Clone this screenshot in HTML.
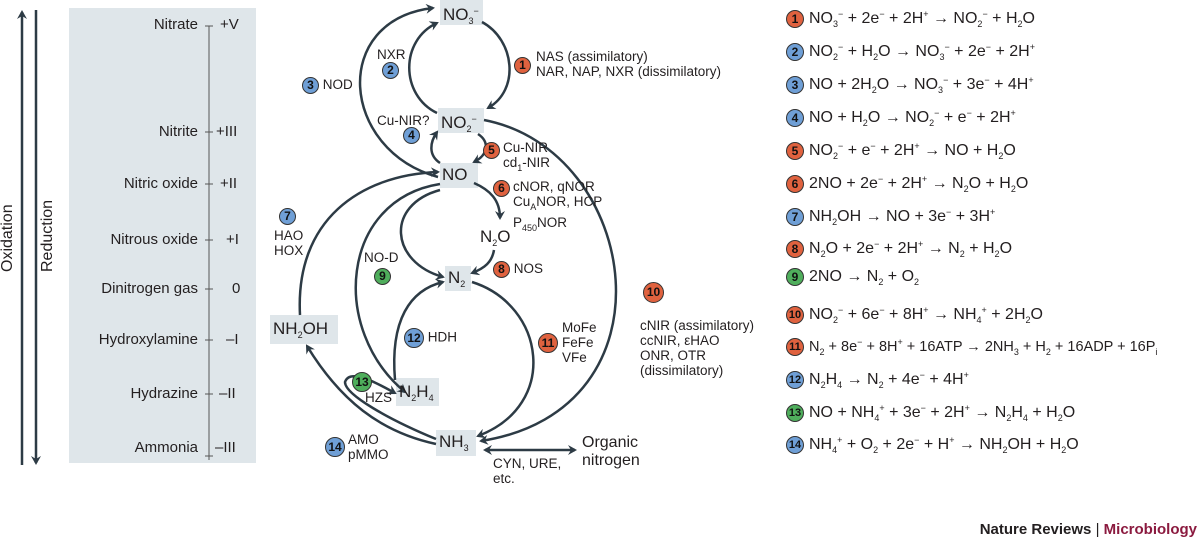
<!DOCTYPE html>
<html><head><meta charset="utf-8"><style>
body{margin:0;width:1200px;height:542px;background:#fff;position:relative;overflow:hidden;font-family:"Liberation Sans",sans-serif;color:#231f20}
.t{position:absolute;white-space:nowrap;font-size:15px;line-height:16px}
.b{position:absolute;background:#dfe6ea}
.s{font-size:9px;vertical-align:-4px}
.p{font-size:9px;vertical-align:6px}
.c{display:inline-block;width:17px;height:17px;border-radius:50%;border:1px solid #333;box-sizing:border-box;font-weight:bold;font-size:12px;line-height:15px;text-align:center;color:#111;vertical-align:middle}
.o{background:#e0623f}.u{background:#6f9fd6}.g{background:#4fae5c}
.r{text-align:right}
.eq{position:absolute;left:786px;font-size:16px;white-space:nowrap;line-height:18px}
.eq .c{margin-right:5px;width:18px;height:18px;line-height:16px}
.sm{font-size:13.5px;line-height:15px}
</style></head><body>
<div class="b" style="left:69px;top:8px;width:187px;height:455px"></div>
<svg width="1200" height="542" style="position:absolute;left:0;top:0">
<defs><marker id="a" markerWidth="10" markerHeight="10" refX="7" refY="5" orient="auto" markerUnits="userSpaceOnUse"><path d="M0,0 L9,5 L0,10 L3,5z" fill="#2d3b45"/></marker>
<marker id="as" markerWidth="10" markerHeight="10" refX="2" refY="5" orient="auto" markerUnits="userSpaceOnUse"><path d="M9,0 L0,5 L9,10 L6,5z" fill="#2d3b45"/></marker></defs>
<g stroke="#2d3b45" stroke-width="2.5" fill="none">
<line x1="22" y1="465" x2="22" y2="12" marker-end="url(#a)"/>
<line x1="36" y1="10" x2="36" y2="463" marker-end="url(#a)"/>
</g>
<g stroke="#555" stroke-width="1" fill="none">
<line x1="209" y1="26" x2="209" y2="460"/>
<path d="M205,26h8M205,132h8M205,184h8M205,240h8M205,289h8M205,340h8M205,394h8M205,456h8"/>
</g>
<rect x="440" y="0" width="43" height="25" fill="#dfe6ea"/>
<rect x="438" y="108" width="46" height="25" fill="#dfe6ea"/>
<rect x="440" y="163" width="38" height="25" fill="#dfe6ea"/>
<rect x="445" y="266" width="26" height="25" fill="#dfe6ea"/>
<rect x="270" y="315" width="68" height="29" fill="#dfe6ea"/>
<rect x="396" y="378" width="43" height="28" fill="#dfe6ea"/>
<rect x="436" y="430" width="40" height="26" fill="#dfe6ea"/>
<g stroke="#2d3b45" stroke-width="2.5" fill="none" marker-end="url(#a)">
<path d="M482,22 C515,40 520,90 488,108"/>
<path d="M437,113 C400,95 400,40 437,23"/>
<path d="M438,177 C340,150 330,20 433,8"/>
<path d="M440,163 C428,155 430,142 437,132"/>
<path d="M478,134 C490,142 488,155 474,162"/>
<path d="M474,183 C490,190 500,200 500,218"/>
<path d="M494,250 C492,262 485,268 472,273"/>
<path d="M440,190 C385,205 390,262 443,277"/>
<path d="M440,184 C340,200 330,330 405,392"/>
<path d="M300,315 C295,220 360,175 438,172"/>
<path d="M436,444 C380,432 340,400 307,346"/>
<path d="M436,439 C390,420 345,395 345,382 C350,367 380,385 395,393"/>
<path d="M395,380 C390,320 410,290 443,282"/>
<path d="M472,282 C545,305 560,405 478,436"/>
<path d="M484,120 C640,150 680,410 481,441"/>
<path d="M485,450 L575,450" marker-start="url(#as)"/>
</g>
</svg>
<div class="t" style="left:0;transform:rotate(-90deg);transform-origin:0 0;top:272px;font-size:16px">Oxidation</div>
<div class="t" style="left:40px;top:272px;transform:rotate(-90deg);transform-origin:0 0;font-size:16px">Reduction</div>
<div class="t r" style="left:60px;width:138px;top:17px">Nitrate</div>
<div class="t r" style="left:60px;width:138px;top:124px">Nitrite</div>
<div class="t r" style="left:60px;width:138px;top:176px">Nitric oxide</div>
<div class="t r" style="left:60px;width:138px;top:232px">Nitrous oxide</div>
<div class="t r" style="left:60px;width:138px;top:281px">Dinitrogen gas</div>
<div class="t r" style="left:60px;width:138px;top:332px">Hydroxylamine</div>
<div class="t r" style="left:60px;width:138px;top:386px">Hydrazine</div>
<div class="t r" style="left:60px;width:138px;top:440px">Ammonia</div>
<div class="t" style="left:220px;top:17px">+V</div>
<div class="t" style="left:216px;top:124px">+III</div>
<div class="t" style="left:220px;top:176px">+II</div>
<div class="t" style="left:226px;top:232px">+I</div>
<div class="t" style="left:232px;top:281px">0</div>
<div class="t" style="left:226px;top:332px">–I</div>
<div class="t" style="left:219px;top:386px">–II</div>
<div class="t" style="left:215px;top:440px">–III</div>

<div class="t" style="left:443px;top:3px;font-size:17px">NO<span class="s">3</span><span class="p">−</span></div>
<div class="t" style="left:441px;top:111px;font-size:17px">NO<span class="s">2</span><span class="p">−</span></div>
<div class="t" style="left:442px;top:167px;font-size:17px">NO</div>
<div class="t" style="left:480px;top:229px;font-size:17px">N<span class="s">2</span>O</div>
<div class="t" style="left:448px;top:270px;font-size:17px">N<span class="s">2</span></div>
<div class="t" style="left:273px;top:321px;font-size:17px">NH<span class="s">2</span>OH</div>
<div class="t" style="left:399px;top:384px;font-size:17px">N<span class="s">2</span>H<span class="s">4</span></div>
<div class="t" style="left:439px;top:434px;font-size:17px">NH<span class="s">3</span></div>
<div class="t" style="left:582px;top:434px;font-size:16px;line-height:18px">Organic<br>nitrogen</div>
<div class="t sm" style="left:493px;top:456px">CYN, URE,<br>etc.</div>

<div class="t sm" style="left:377px;top:47px">NXR</div>
<div class="t" style="left:382px;top:62px"><span class="c u">2</span></div>
<div class="t sm" style="left:302px;top:77px"><span class="c u">3</span> NOD</div>
<div class="t sm" style="left:514px;top:49px"><span class="c o" style="margin-top:8px;vertical-align:top">1</span></div>
<div class="t sm" style="left:536px;top:49px">NAS (assimilatory)<br>NAR, NAP, NXR (dissimilatory)</div>
<div class="t sm" style="left:377px;top:113px">Cu-NIR?</div>
<div class="t" style="left:403px;top:127px"><span class="c u">4</span></div>
<div class="t" style="left:483px;top:142px"><span class="c o">5</span></div>
<div class="t sm" style="left:503px;top:140px">Cu-NIR<br>cd<span class="s">1</span>-NIR</div>
<div class="t" style="left:493px;top:180px"><span class="c o">6</span></div>
<div class="t sm" style="left:513px;top:179px">cNOR, qNOR<br>Cu<span class="s">A</span>NOR, HCP<br>P<span class="s">450</span>NOR</div>
<div class="t" style="left:279px;top:208px"><span class="c u">7</span></div>
<div class="t sm" style="left:274px;top:228px">HAO<br>HOX</div>
<div class="t sm" style="left:364px;top:250px">NO-D</div>
<div class="t" style="left:374px;top:268px"><span class="c g">9</span></div>
<div class="t sm" style="left:493px;top:261px"><span class="c o">8</span> NOS</div>
<div class="t" style="left:643px;top:282px"><span class="c o" style="width:21px;height:21px;line-height:19px">10</span></div>
<div class="t sm" style="left:640px;top:318px">cNIR (assimilatory)<br>ccNIR, εHAO<br>ONR, OTR<br>(dissimilatory)</div>
<div class="t" style="left:538px;top:333px"><span class="c o" style="width:20px;height:20px;line-height:18px">11</span></div>
<div class="t sm" style="left:562px;top:320px">MoFe<br>FeFe<br>VFe</div>
<div class="t sm" style="left:404px;top:328px"><span class="c u" style="width:20px;height:20px;line-height:18px">12</span> HDH</div>
<div class="t" style="left:352px;top:372px"><span class="c g" style="width:20px;height:20px;line-height:18px">13</span></div>
<div class="t sm" style="left:365px;top:390px">HZS</div>
<div class="t" style="left:325px;top:437px"><span class="c u" style="width:20px;height:20px;line-height:18px">14</span></div>
<div class="t sm" style="left:348px;top:432px">AMO<br>pMMO</div>

<div class="eq" style="top:5px"><span class="c o">1</span>NO<span class="s">3</span><span class="p">−</span> + 2e<span class="p">−</span> + 2H<span class="p">+</span> → NO<span class="s">2</span><span class="p">−</span> + H<span class="s">2</span>O</div>
<div class="eq" style="top:38px"><span class="c u">2</span>NO<span class="s">2</span><span class="p">−</span> + H<span class="s">2</span>O → NO<span class="s">3</span><span class="p">−</span> + 2e<span class="p">−</span> + 2H<span class="p">+</span></div>
<div class="eq" style="top:71px"><span class="c u">3</span>NO + 2H<span class="s">2</span>O → NO<span class="s">3</span><span class="p">−</span> + 3e<span class="p">−</span> + 4H<span class="p">+</span></div>
<div class="eq" style="top:104px"><span class="c u">4</span>NO + H<span class="s">2</span>O → NO<span class="s">2</span><span class="p">−</span> +  e<span class="p">−</span> + 2H<span class="p">+</span></div>
<div class="eq" style="top:137px"><span class="c o">5</span>NO<span class="s">2</span><span class="p">−</span> + e<span class="p">−</span> + 2H<span class="p">+</span> → NO + H<span class="s">2</span>O</div>
<div class="eq" style="top:170px"><span class="c o">6</span>2NO + 2e<span class="p">−</span> + 2H<span class="p">+</span> → N<span class="s">2</span>O + H<span class="s">2</span>O</div>
<div class="eq" style="top:203px"><span class="c u">7</span>NH<span class="s">2</span>OH →  NO + 3e<span class="p">−</span> + 3H<span class="p">+</span></div>
<div class="eq" style="top:235px"><span class="c o">8</span>N<span class="s">2</span>O + 2e<span class="p">−</span> + 2H<span class="p">+</span> → N<span class="s">2</span> + H<span class="s">2</span>O</div>
<div class="eq" style="top:268px"><span class="c g">9</span>2NO → N<span class="s">2</span> + O<span class="s">2</span></div>
<div class="eq" style="top:301px"><span class="c o" style="font-size:11px">10</span>NO<span class="s">2</span><span class="p">−</span> + 6e<span class="p">−</span> + 8H<span class="p">+</span> → NH<span class="s">4</span><span class="p">+</span> + 2H<span class="s">2</span>O</div>
<div class="eq" style="top:333px;font-size:14.5px"><span class="c o" style="font-size:11px">11</span>N<span class="s">2</span> + 8e<span class="p">−</span> + 8H<span class="p">+</span> + 16ATP → 2NH<span class="s">3</span> + H<span class="s">2</span> + 16ADP + 16P<span class="s">i</span></div>
<div class="eq" style="top:366px"><span class="c u" style="font-size:11px">12</span>N<span class="s">2</span>H<span class="s">4</span> → N<span class="s">2</span> + 4e<span class="p">−</span> + 4H<span class="p">+</span></div>
<div class="eq" style="top:399px"><span class="c g" style="font-size:11px">13</span>NO + NH<span class="s">4</span><span class="p">+</span> + 3e<span class="p">−</span> + 2H<span class="p">+</span> → N<span class="s">2</span>H<span class="s">4</span> + H<span class="s">2</span>O</div>
<div class="eq" style="top:431px"><span class="c u" style="font-size:11px">14</span>NH<span class="s">4</span><span class="p">+</span> + O<span class="s">2</span> + 2e<span class="p">−</span> + H<span class="p">+</span> → NH<span class="s">2</span>OH + H<span class="s">2</span>O</div>

<div class="t" style="right:3px;top:522px;font-size:15px;font-weight:bold">Nature Reviews <span style="font-weight:normal">|</span> <span style="color:#8b1a3f">Microbiology</span></div>
</body></html>
